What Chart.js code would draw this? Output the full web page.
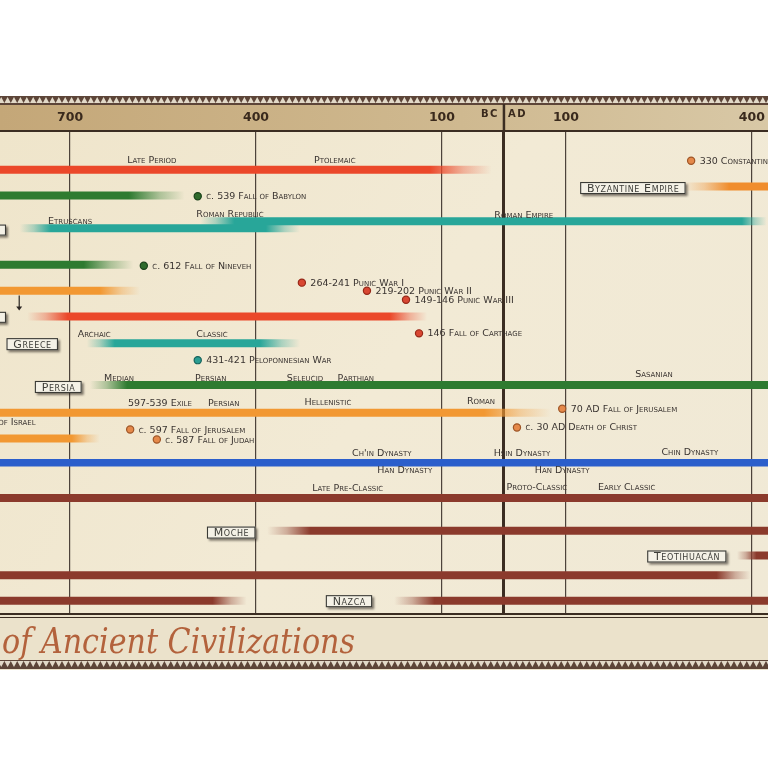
<!DOCTYPE html>
<html><head><meta charset="utf-8">
<script src="https://cdn.jsdelivr.net/npm/chart.js@4.4.1/dist/chart.umd.min.js"></script>
<style>html,body{margin:0;padding:0;background:#fff;overflow:hidden}canvas{display:block}</style>
</head><body>
<canvas id="c" width="768" height="768"></canvas>
<script>
// ---------- DATA ----------
const X_MIN = -813, X_MAX = 426, LANE_MAX = 18.34;
const tickYears = [-700, -400, -100, 0, 100, 400];

const barCiv      = ['egypt','meso','byz','rome','rome','meso','israel','egypt','rome','meso','israel','israel','china','america','america','america','america','america','america'];
const barLane     = [1.47, 2.45, 2.11, 3.70, 3.43, 5.09, 6.08, 7.06, 8.08, 9.66, 10.72, 11.70, 12.62, 13.96, 15.21, 16.15, 16.90, 17.87, 17.87];
const barStart    = [-830, -830, 290, -781, -490, -830, -830, -769, -673, -668, -830, -830, -830, -830, -382, 376, -830, -830, -177];
const barEnd      = [-20, -515, 440, -329, 424, -598, -587, -124, -329, 440, 76, -652, 440, 440, 440, 440, 398, -415, 440];
const barFadeIn   = [0, 0, 90, 50, 55, 0, 0, 65, 45, 60, 0, 0, 0, 0, 70, 45, 0, 0, 65];
const barFadeOut  = [100, 90, 0, 55, 40, 80, 65, 60, 65, 0, 108, 45, 0, 0, 0, 0, 55, 55, 0];

const periodLabels = ['Late Period','Ptolemaic','Etruscans','Roman Republic','Roman Empire','Archaic','Classic','Median','Persian','Seleucid','Parthian','Sasanian','597-539 Exile','Persian','Hellenistic','Roman','of Israel',"Ch'in Dynasty",'Hsin Dynasty','Chin Dynasty','Han Dynasty','Han Dynasty','Late Pre-Classic','Proto-Classic','Early Classic'];
const periodYears  = [-568, -273, -700, -442, 32, -661, -471, -621, -473, -321, -239, 242, -555, -452, -284, -37, -816, -197, 29, 300, -160, 94, -252, 53, 198];
const periodLanes  = [1.13, 1.13, 3.43, 3.17, 3.20, 7.76, 7.76, 9.40, 9.40, 9.40, 9.40, 9.28, 10.38, 10.38, 10.34, 10.30, 11.09, 12.26, 12.26, 12.23, 12.91, 12.91, 13.62, 13.55, 13.55];
const periodAlign  = ['c','c','c','c','c','c','c','c','c','c','c','c','c','c','c','c','l','c','c','c','c','c','c','c','c'];

const eventLabels = ['330 Constantinople','c. 539 Fall of Babylon','c. 612 Fall of Nineveh','264-241 Punic War I','219-202 Punic War II','149-146 Punic War III','146 Fall of Carthage','431-421 Peloponnesian War','70 AD Fall of Jerusalem','c. 30 AD Death of Christ','c. 597 Fall of Jerusalem','c. 587 Fall of Judah'];
const eventYears  = [302, -494, -581, -326, -221, -158, -137, -494, 94, 21, -603, -560];
const eventLanes  = [1.13, 2.48, 5.13, 5.77, 6.08, 6.42, 7.70, 8.72, 10.57, 11.28, 11.36, 11.74];
const eventCiv    = ['orange','green','green','red','red','red','red','teal','orange','orange','orange','orange'];

const boxLabels = ['Byzantine Empire','Greece','Persia','Moche','Teotihuacán','Nazca'];
const boxYears  = [208, -761, -719, -440, 295, -250];
const boxLanes  = [2.17, 8.11, 9.74, 15.28, 16.19, 17.89];
const edgeBoxLanes = [3.77, 7.09];
const arrowYear = -782, arrowLanes = [6.26, 6.83];

// ---------- STYLE ----------
const palette = {egypt:[235,72,42], meso:[46,123,48], byz:[240,141,45], rome:[40,166,153], israel:[242,152,50], china:[43,94,203], america:[139,58,44]};
const dotFill = {orange:'#e5894a', green:'#2f6b2c', red:'#d94732', teal:'#2a9d92'};
const dotLine = {orange:'#9e5526', green:'#1b421b', red:'#962818', teal:'#17635b'};
const TEXT = '#3a3431';
const FONT = '"DejaVu Sans", sans-serif';

function rgba(c, a) { return `rgba(${c[0]},${c[1]},${c[2]},${a})`; }
function fadeGradient(chart, i, col) {
  const area = chart.chartArea, x = chart.scales.x;
  if (!area || !x) return rgba(col, 1);
  const p0 = x.getPixelForValue(barStart[i]), p1 = x.getPixelForValue(barEnd[i]);
  const L = p1 - p0;
  const g = chart.ctx.createLinearGradient(p0, 0, p1, 0);
  const fi = Math.min(0.49, (x.getPixelForValue(barStart[i] + barFadeIn[i]) - p0) / L);
  const fo = Math.min(0.49, (p1 - x.getPixelForValue(barEnd[i] - barFadeOut[i])) / L);
  g.addColorStop(0, rgba(col, barFadeIn[i] > 0 ? 0 : 1));
  if (barFadeIn[i] > 0) g.addColorStop(fi * 0.45, rgba(col, 0.35));
  g.addColorStop(fi, rgba(col, 1));
  g.addColorStop(1 - fo, rgba(col, 1));
  if (barFadeOut[i] > 0) g.addColorStop(1 - fo * 0.45, rgba(col, 0.35));
  g.addColorStop(1, rgba(col, barFadeOut[i] > 0 ? 0 : 1));
  return g;
}

const datasets = barCiv.map((civ, i) => ({
  type: 'line',
  data: [{x: barStart[i], y: barLane[i]}, {x: barEnd[i], y: barLane[i]}],
  borderWidth: civ === 'china' ? 7.5 : 8,
  borderCapStyle: 'butt',
  pointRadius: 0, pointHoverRadius: 0, tension: 0, fill: false,
  borderColor: c => fadeGradient(c.chart, i, palette[civ])
}));
datasets.push({
  type: 'scatter',
  data: eventYears.map((v, i) => ({x: v, y: eventLanes[i]})),
  pointRadius: 3.6, pointBorderWidth: 1.2,
  pointBackgroundColor: eventCiv.map(k => dotFill[k]),
  pointBorderColor: eventCiv.map(k => dotLine[k])
});

function setFont(ctx, size, weight) {
  ctx.font = `small-caps ${weight || 'normal'} ${size}px ${FONT}`;
  try { ctx.fontVariantCaps = 'small-caps'; } catch (e) {}
}

const posterPlugin = {
  id: 'poster',
  beforeDraw(chart) {
    const {ctx, chartArea: ca, width: W} = chart;
    ctx.save();
    ctx.fillStyle = '#ffffff'; ctx.fillRect(0, 0, W, chart.height);
    ctx.fillStyle = '#ebe2cb'; ctx.fillRect(0, 96, W, 574);
    // header band
    let g = ctx.createLinearGradient(0, 0, W, 0);
    g.addColorStop(0, '#c4a778'); g.addColorStop(0.6, '#cfb990'); g.addColorStop(1, '#d8c8a6');
    ctx.fillStyle = g; ctx.fillRect(0, 104, W, ca.top - 104);
    // plot background
    g = ctx.createLinearGradient(0, ca.top, W, ca.bottom);
    g.addColorStop(0, '#efe5cb'); g.addColorStop(0.5, '#f2ead5'); g.addColorStop(1, '#f0e9d6');
    ctx.fillStyle = g; ctx.fillRect(0, ca.top, W, ca.bottom - ca.top);
    // zigzags
    ctx.fillStyle = '#5d4538'; ctx.fillRect(0, 96, W, 9);
    ctx.fillStyle = '#e2d9c8';
    for (let x = -2; x < W; x += 6.4) {
      ctx.beginPath(); ctx.moveTo(x, 103); ctx.lineTo(x + 3.2, 97); ctx.lineTo(x + 6.4, 103); ctx.closePath(); ctx.fill();
    }
    ctx.fillStyle = '#5d4538'; ctx.fillRect(0, 660, W, 9);
    ctx.fillStyle = '#e2d9c8';
    for (let x = -2; x < W; x += 6.4) {
      ctx.beginPath(); ctx.moveTo(x, 661); ctx.lineTo(x + 3.2, 667); ctx.lineTo(x + 6.4, 661); ctx.closePath(); ctx.fill();
    }
    // title
    ctx.font = `italic 36px "DejaVu Serif", serif`;
    const t = 'of Ancient Civilizations';
    const tw = ctx.measureText(t).width;
    ctx.translate(2, 653); ctx.scale(353 / tw, 1);
    ctx.fillStyle = '#b3623c'; ctx.textBaseline = 'alphabetic'; ctx.textAlign = 'left';
    ctx.fillText(t, 0, 0);
    ctx.restore();
    // bottom border
    ctx.save();
    ctx.strokeStyle = '#3b2d22';
    ctx.lineWidth = 2; ctx.beginPath(); ctx.moveTo(0, ca.bottom + 1); ctx.lineTo(W, ca.bottom + 1); ctx.stroke();
    ctx.lineWidth = 1; ctx.beginPath(); ctx.moveTo(0, ca.bottom + 4.5); ctx.lineTo(W, ca.bottom + 4.5); ctx.stroke();
    ctx.restore();
  },
  afterDatasetsDraw(chart) {
    const {ctx, scales: {x, y}} = chart;
    ctx.save();
    ctx.textBaseline = 'middle';
    ctx.fillStyle = TEXT;
    // period labels
    setFont(ctx, 9.5);
    periodLabels.forEach((t, i) => {
      ctx.textAlign = periodAlign[i] === 'l' ? 'left' : 'center';
      ctx.fillText(t, x.getPixelForValue(periodYears[i]), y.getPixelForValue(periodLanes[i]));
    });
    // event labels
    ctx.textAlign = 'left';
    eventLabels.forEach((t, i) => {
      ctx.fillText(t, x.getPixelForValue(eventYears[i]) + 8.5, y.getPixelForValue(eventLanes[i]) + 0.5);
    });
    // boxes
    const drawBox = (cx, cy, w, h, label) => {
      ctx.save();
      ctx.fillStyle = 'rgba(45,38,32,0.6)';
      ctx.filter = 'blur(1px)';
      ctx.fillRect(cx - w / 2 + 2, cy - h / 2 + 2, w, h);
      ctx.filter = 'none';
      ctx.fillStyle = '#f4f1e6'; ctx.fillRect(cx - w / 2, cy - h / 2, w, h);
      ctx.strokeStyle = '#3a3a35'; ctx.lineWidth = 1.1; ctx.strokeRect(cx - w / 2 + 0.5, cy - h / 2 + 0.5, w - 1, h - 1);
      if (label) {
        ctx.fillStyle = '#3d3d38'; ctx.textAlign = 'center';
        ctx.fillText(label, cx + 0.3, cy + 0.8);
      }
      ctx.restore();
    };
    setFont(ctx, 11);
    try { ctx.letterSpacing = '0.6px'; } catch (e) {}
    boxLabels.forEach((t, i) => {
      const w = ctx.measureText(t).width + 13;
      drawBox(x.getPixelForValue(boxYears[i]), y.getPixelForValue(boxLanes[i]), w, 12, t);
    });
    edgeBoxLanes.forEach(l => drawBox(-20, y.getPixelForValue(l), 52, 11, ''));
    try { ctx.letterSpacing = '0px'; } catch (e) {}
    // arrow
    const ax = x.getPixelForValue(arrowYear), ay0 = y.getPixelForValue(arrowLanes[0]), ay1 = y.getPixelForValue(arrowLanes[1]);
    ctx.strokeStyle = '#2b2522'; ctx.lineWidth = 1.2;
    ctx.beginPath(); ctx.moveTo(ax, ay0); ctx.lineTo(ax, ay1 - 3); ctx.stroke();
    ctx.fillStyle = '#2b2522';
    ctx.beginPath(); ctx.moveTo(ax - 3, ay1 - 4); ctx.lineTo(ax + 3, ay1 - 4); ctx.lineTo(ax, ay1); ctx.closePath(); ctx.fill();
    ctx.restore();
  },
  afterDraw(chart) {
    const {ctx, chartArea: ca, scales: {x}} = chart;
    const x0 = x.getPixelForValue(0);
    ctx.save();
    ctx.strokeStyle = '#3b2d22'; ctx.lineWidth = 2.5;
    ctx.beginPath(); ctx.moveTo(x0, 104); ctx.lineTo(x0, ca.top); ctx.stroke();
    ctx.fillStyle = '#3a2a1d';
    ctx.font = `bold 10px ${FONT}`;
    try { ctx.letterSpacing = '1.5px'; } catch (e) {}
    ctx.textBaseline = 'middle';
    ctx.textAlign = 'right'; ctx.fillText('BC', x0 - 5, 114);
    ctx.textAlign = 'left'; ctx.fillText('AD', x0 + 4, 114);
    ctx.restore();
  }
};

new Chart(document.getElementById('c'), {
  type: 'line',
  data: {datasets},
  options: {
    responsive: false,
    animation: false,
    events: [],
    layout: {autoPadding: false, padding: {top: 104, bottom: 155, left: 0, right: 0}},
    plugins: {legend: {display: false}, tooltip: {enabled: false}, title: {display: false}},
    scales: {
      x: {
        type: 'linear', position: 'top', min: X_MIN, max: X_MAX,
        afterBuildTicks: axis => { axis.ticks = tickYears.map(v => ({value: v})); },
        afterFit: axis => { axis.paddingLeft = 0; axis.paddingRight = 0; },
        ticks: {
          autoSkip: false, maxRotation: 0, padding: 6,
          color: '#3a2a1d',
          font: {family: 'DejaVu Sans', weight: 'bold', size: 12.5},
          callback: v => v === 0 ? '' : String(Math.abs(v))
        },
        grid: {
          drawTicks: false,
          color: c => c.tick && c.tick.value === 0 ? '#3b2d22' : '#4d433b',
          lineWidth: c => c.tick && c.tick.value === 0 ? 3 : 1.2
        },
        border: {display: true, color: '#3b2d22', width: 2}
      },
      y: {type: 'linear', min: 0, max: LANE_MAX, reverse: true, display: false}
    }
  },
  plugins: [posterPlugin]
});
</script>
</body></html>
